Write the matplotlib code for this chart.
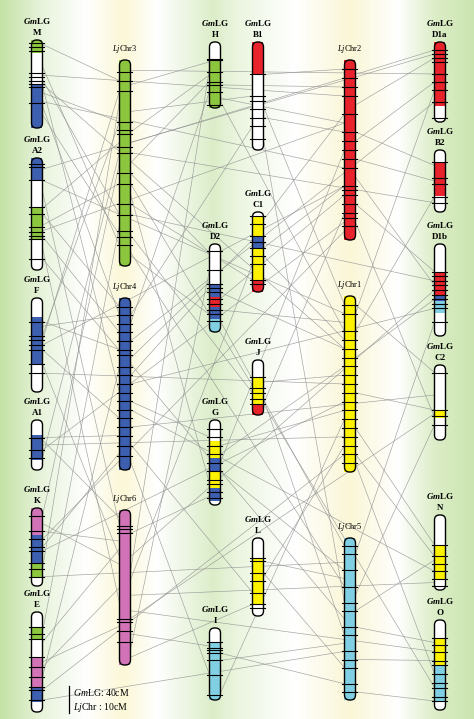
import numpy as np
import matplotlib.pyplot as plt
from matplotlib.patches import FancyBboxPatch, Rectangle
from matplotlib.colors import LinearSegmentedColormap

plt.rcParams['mathtext.fontset'] = 'custom'
plt.rcParams['mathtext.it'] = 'Liberation Serif:italic'
plt.rcParams['mathtext.bf'] = 'Liberation Serif:bold:italic'
plt.rcParams['mathtext.rm'] = 'Liberation Serif'

G, B, R, Y, P, C = '#8cc63f', '#3d5fb0', '#e8232b', '#fff200', '#d173b6', '#80cfe2'

# name: (label, x, top, bottom, colored segments (frac), band positions (frac))
chroms = {
    'M':    ('M', 37, 40, 128, [(0, .15, G), (.5, 1, B)], [.03, .08, .13, .38, .42, .47, .5, .53, .72]),
    'A2':   ('A2', 37, 158, 270, [(0, .2, B), (.44, .72, G)], [.05, .08, .2, .44, .5, .62, .66, .7, .72, .9]),
    'F':    ('F', 37, 298, 392, [(.2, .7, B)], [.25, .4, .45, .5, .55, .7, .8]),
    'A1':   ('A1', 37, 420, 470, [(.3, .8, B)], [.35, .6, .75]),
    'K':    ('K', 37, 508, 586, [(0, .35, P), (.35, .7, B), (.7, .9, G)], [.1, .3, .4, .5, .55, .7, .78, .88]),
    'E':    ('E', 37, 612, 712, [(.15, .27, G), (.45, .75, P), (.75, .9, B)], [.15, .22, .27, .45, .55, .65, .75, .78, .88]),
    'Chr3': ('Chr3', 125, 60, 266, [(0, 1, G)], [.06, .1, .15, .3, .34, .36, .42, .45, .55, .6, .7, .75, .83, .86, .9]),
    'Chr4': ('Chr4', 125, 298, 470, [(0, 1, B)], [.05, .1, .15, .2, .25, .3, .33, .4, .45, .5, .55, .6, .65, .7, .75, .8, .86, .92]),
    'Chr6': ('Chr6', 125, 510, 665, [(0, 1, P)], [.1, .12, .15, .7, .72, .78, .85]),
    'H':    ('H', 215, 42, 108, [(.25, 1, G)], [.25, .28, .45, .6, .65, .75, .95]),
    'D2':   ('D2', 215, 244, 332, [(.45, .6, B), (.6, .72, R), (.72, .85, B), (.85, 1, C)], [.08, .3, .45, .5, .55, .62, .68, .75, .8, .88]),
    'G':    ('G', 215, 420, 505, [(.25, .45, Y), (.45, .6, B), (.6, .8, Y), (.8, .95, B)], [.1, .2, .3, .4, .5, .6, .7, .75, .85, .92]),
    'I':    ('I', 215, 628, 700, [(.2, 1, C)], [.2, .28, .3, .35, .45, .65, .93]),
    'B1':   ('B1', 258, 42, 150, [(0, .3, R)], [.3, .5, .55, .62, .7, .78, .9]),
    'C1':   ('C1', 258, 212, 292, [(.05, .3, Y), (.3, .45, B), (.45, .85, Y), (.85, 1, R)], [.05, .15, .3, .38, .45, .55, .65, .85, .9]),
    'J':    ('J', 258, 360, 415, [(.3, .8, Y), (.8, 1, R)], [.3, .5, .6, .7, .8]),
    'L':    ('L', 258, 538, 616, [(.25, .85, Y)], [.25, .3, .45, .55, .7, .85, .9]),
    'Chr2': ('Chr2', 350, 60, 240, [(0, 1, R)], [.05, .1, .15, .2, .3, .4, .45, .5, .55, .6, .7, .72, .75, .8, .85, .88, .92]),
    'Chr1': ('Chr1', 350, 296, 472, [(0, 1, Y)], [.05, .1, .2, .25, .3, .35, .4, .45, .5, .55, .6, .65, .7, .75, .8, .85, .9, .95]),
    'Chr5': ('Chr5', 350, 538, 700, [(0, 1, C)], [.05, .1, .2, .3, .4, .45, .55, .6, .7, .75, .8, .9, .95]),
    'D1a':  ('D1a', 440, 42, 122, [(0, .8, R)], [.1, .15, .2, .25, .4, .5, .6, .75, .95]),
    'B2':   ('B2', 440, 150, 212, [(.2, .75, R)], [.2, .45, .55, .75, .85]),
    'D1b':  ('D1b', 440, 244, 336, [(.3, .55, R), (.55, .62, B), (.62, .75, C)], [.3, .35, .4, .45, .5, .55, .6, .65, .7, .85]),
    'C2':   ('C2', 440, 365, 440, [(.6, .7, Y)], [.1, .6, .68, .8]),
    'N':    ('N', 440, 515, 590, [(.4, .85, Y)], [.4, .55, .65, .75, .85, .95]),
    'O':    ('O', 440, 620, 710, [(.2, .5, Y), (.5, .9, C)], [.2, .28, .35, .45, .5, .6, .7, .75, .85, .9]),
}

# synteny links: (soybean LG, position, Lotus chromosome, position)
links = [
    ('M', .05, 'Chr3', .1), ('M', .4, 'Chr2', .2), ('M', .45, 'Chr3', .75), ('M', .5, 'Chr1', .3),
    ('M', .52, 'Chr4', .55), ('M', .7, 'Chr2', .6), ('M', .85, 'Chr5', .3), ('M', .3, 'Chr3', .9),
    ('M', .6, 'Chr3', .3), ('M', .75, 'Chr4', .1),
    ('A2', .1, 'Chr2', .1), ('A2', .45, 'Chr3', .4), ('A2', .6, 'Chr3', .6), ('A2', .7, 'Chr4', .2),
    ('A2', .8, 'Chr6', .6), ('A2', .9, 'Chr5', .5), ('A2', .2, 'Chr1', .1), ('A2', .3, 'Chr6', .1),
    ('A2', .5, 'Chr4', .05), ('A2', .65, 'Chr2', .35),
    ('F', .25, 'Chr4', .3), ('F', .4, 'Chr3', .3), ('F', .5, 'Chr2', .7), ('F', .55, 'Chr4', .7),
    ('F', .7, 'Chr6', .3), ('F', .8, 'Chr1', .5), ('F', .45, 'Chr3', .15), ('F', .3, 'Chr4', .1),
    ('A1', .35, 'Chr4', .8), ('A1', .6, 'Chr2', .9), ('A1', .75, 'Chr3', .45), ('A1', .5, 'Chr1', .8),
    ('A1', .4, 'Chr6', .05),
    ('K', .1, 'Chr3', .5), ('K', .3, 'Chr6', .2), ('K', .5, 'Chr4', .9), ('K', .55, 'Chr1', .6),
    ('K', .78, 'Chr3', .2), ('K', .88, 'Chr5', .15), ('K', .4, 'Chr2', .95), ('K', .2, 'Chr6', .35),
    ('E', .2, 'Chr3', .8), ('E', .5, 'Chr6', .75), ('E', .65, 'Chr4', .4), ('E', .78, 'Chr1', .9),
    ('E', .88, 'Chr5', .7), ('E', .55, 'Chr6', .5), ('E', .3, 'Chr6', .25),
    ('H', .3, 'Chr3', .12), ('H', .5, 'Chr3', .35), ('H', .65, 'Chr2', .15), ('H', .75, 'Chr4', .15),
    ('H', .9, 'Chr1', .2), ('H', .4, 'Chr6', .4), ('H', .6, 'Chr3', .5), ('H', .85, 'Chr2', .35),
    ('D2', .1, 'Chr3', .55), ('D2', .5, 'Chr4', .45), ('D2', .62, 'Chr2', .75), ('D2', .75, 'Chr1', .15),
    ('D2', .88, 'Chr5', .05), ('D2', .3, 'Chr6', .9), ('D2', .8, 'Chr3', .95), ('D2', .55, 'Chr1', .3),
    ('G', .2, 'Chr4', .6), ('G', .4, 'Chr1', .4), ('G', .6, 'Chr5', .2), ('G', .75, 'Chr3', .65),
    ('G', .9, 'Chr6', .15), ('G', .5, 'Chr2', .5), ('G', .3, 'Chr1', .65),
    ('I', .25, 'Chr6', .8), ('I', .35, 'Chr5', .9), ('I', .65, 'Chr4', .95), ('I', .9, 'Chr1', .7),
    ('I', .45, 'Chr5', .65),
    ('B1', .3, 'Chr2', .05), ('B1', .5, 'Chr3', .25), ('B1', .6, 'Chr1', .05), ('B1', .78, 'Chr4', .1),
    ('B1', .9, 'Chr5', .4), ('B1', .7, 'Chr2', .4),
    ('C1', .1, 'Chr2', .3), ('C1', .35, 'Chr4', .35), ('C1', .55, 'Chr1', .25), ('C1', .85, 'Chr3', .7),
    ('C1', .65, 'Chr6', .45), ('C1', .45, 'Chr2', .7),
    ('J', .4, 'Chr1', .45), ('J', .6, 'Chr3', .85), ('J', .8, 'Chr2', .85), ('J', .7, 'Chr5', .6),
    ('L', .3, 'Chr5', .25), ('L', .5, 'Chr1', .85), ('L', .7, 'Chr4', .85), ('L', .85, 'Chr6', .95),
    ('L', .45, 'Chr5', .8),
    ('D1a', .1, 'Chr2', .08), ('D1a', .2, 'Chr2', .25), ('D1a', .4, 'Chr3', .05), ('D1a', .6, 'Chr1', .1),
    ('D1a', .75, 'Chr4', .25), ('D1a', .5, 'Chr2', .45), ('D1a', .15, 'Chr3', .4),
    ('B2', .25, 'Chr2', .4), ('B2', .5, 'Chr2', .55), ('B2', .75, 'Chr1', .2), ('B2', .85, 'Chr3', .45),
    ('D1b', .3, 'Chr2', .8), ('D1b', .45, 'Chr2', .65), ('D1b', .6, 'Chr1', .35), ('D1b', .7, 'Chr4', .5),
    ('D1b', .85, 'Chr5', .1), ('D1b', .5, 'Chr6', .3), ('D1b', .4, 'Chr3', .75),
    ('C2', .1, 'Chr1', .05), ('C2', .6, 'Chr1', .55), ('C2', .7, 'Chr2', .9), ('C2', .8, 'Chr5', .35),
    ('C2', .4, 'Chr4', .75), ('C2', .65, 'Chr6', .7),
    ('N', .4, 'Chr1', .75), ('N', .6, 'Chr5', .45), ('N', .75, 'Chr4', .65), ('N', .9, 'Chr6', .55),
    ('N', .55, 'Chr1', .9),
    ('O', .25, 'Chr5', .55), ('O', .45, 'Chr5', .75), ('O', .6, 'Chr1', .95), ('O', .75, 'Chr3', .6),
    ('O', .9, 'Chr5', .95), ('O', .35, 'Chr6', .65),
]

fig = plt.figure(figsize=(4.74, 7.19), dpi=100)
ax = fig.add_axes([0, 0, 1, 1])
ax.set_xlim(0, 474)
ax.set_ylim(719, 0)
ax.axis('off')

# soft green / yellow background bands
bg = LinearSegmentedColormap.from_list('bg', [
    (0.0, '#c4e2a6'), (0.09, '#e9f4dd'), (0.18, '#ffffff'), (0.26, '#fbf7d6'),
    (0.33, '#ffffff'), (0.45, '#dcedc9'), (0.5, '#ebf5df'), (0.62, '#ffffff'),
    (0.74, '#faf6d6'), (0.84, '#ffffff'), (0.92, '#dcedc7'), (1.0, '#cbe5b0')])
ax.imshow(np.linspace(0, 1, 256)[None, :], cmap=bg, aspect='auto',
          extent=[0, 474, 719, 0], zorder=0)

W = 11


def ypos(name, f):
    _, x, t, b, _, _ = chroms[name]
    return x, t + f * (b - t)


for a, fa, b, fb in links:
    xa, ya = ypos(a, fa)
    xb, yb = ypos(b, fb)
    if xa < xb:
        xa, xb = xa + W / 2, xb - W / 2
    else:
        xa, xb = xa - W / 2, xb + W / 2
    ax.plot([xa, xb], [ya, yb], color='#8a8a8a', lw=0.45, alpha=0.8, zorder=1)

for name, (lab, x, t, b, segs, bands) in chroms.items():
    L = b - t
    ax.add_patch(FancyBboxPatch((x - W / 2, t), W, L, boxstyle='round,pad=0,rounding_size=5',
                                fc='white', ec='none', zorder=2))
    for s, e, c in segs:
        ax.add_patch(Rectangle((x - W / 2, t + s * L), W, (e - s) * L, fc=c, ec='none', zorder=3))
    for f in bands:
        ax.plot([x - W / 2 - 2, x + W / 2 + 2], [t + f * L] * 2, color='black', lw=0.8, zorder=4)
    ax.add_patch(FancyBboxPatch((x - W / 2, t), W, L, boxstyle='round,pad=0,rounding_size=5',
                                fc='none', ec='black', lw=1.0, zorder=5))
    if name.startswith('Chr'):
        ax.text(x, t - 5, r'$\mathit{Lj}$' + lab, ha='center', va='bottom', fontsize=6,
                family='Liberation Serif', zorder=6)
    else:
        ax.text(x, t - 14, r'$\mathbf{Gm}$' + 'LG', ha='center', va='bottom', fontsize=6.5,
                fontweight='bold', family='Liberation Serif', zorder=6)
        ax.text(x, t - 3, lab, ha='center', va='bottom', fontsize=6.5,
                fontweight='bold', family='Liberation Serif', zorder=6)

# scale bar
ax.plot([69, 69], [686, 713], color='black', lw=0.9, zorder=6)
ax.text(73, 692, r'$\mathit{Gm}$LG: 40cM', fontsize=7, family='Liberation Serif', va='center')
ax.text(73, 707, r'$\mathit{Lj}$Chr : 10cM', fontsize=7, family='Liberation Serif', va='center')

fig.savefig('out.png', dpi=100)
